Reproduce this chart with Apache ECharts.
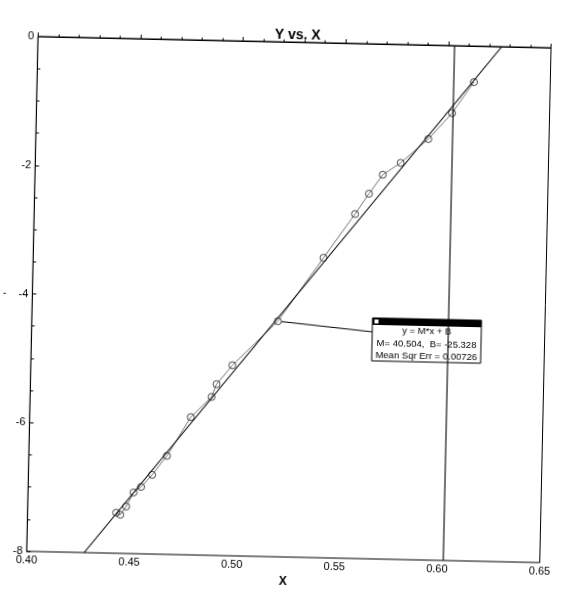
<!DOCTYPE html>
<html><head><meta charset="utf-8">
<script src="https://cdn.jsdelivr.net/npm/echarts@6/dist/echarts.min.js"></script>
<style>
html,body{margin:0;padding:0;background:#fff;overflow:hidden;}
#c{width:576px;height:594px;transform:rotate(1.26deg);transform-origin:50% 50%;}
</style>
</head><body><div id="c"></div>
<script>
// Measured data (X, Y)
const xData = [0.4432,0.4452,0.4480,0.4514,0.4550,0.4603,0.4673,0.4785,0.4884,0.4907,0.4982,0.5199,0.5414,0.5563,0.5629,0.5694,0.5780,0.5912,0.6025,0.6128];
const yData = [-7.37,-7.40,-7.27,-7.05,-6.96,-6.77,-6.47,-5.86,-5.54,-5.34,-5.04,-4.34,-3.34,-2.65,-2.33,-2.03,-1.84,-1.46,-1.05,-0.56];
// Fitted line endpoints
const fitX = [0.428, 0.626];
const fitY = [-8, 0];
// Vertical cursor
const cursorX = 0.603;
const cursorY = [-8, 0];
// Axis ranges / ticks
const xMin = 0.40, xMax = 0.65, xStep = 0.05;
const yMin = -8, yMax = 0, yStep = 2;
// Texts
const titleText = 'Y vs. X';
const xName = 'X';
const yName = '-';
const calloutLines = ['y = M*x + B', 'M= 40.504,  B= -25.328', 'Mean Sqr Err = 0.00726'];
const calloutIndex = 11;

const FONT = '"Liberation Sans", Arial, sans-serif';
const chart = echarts.init(document.getElementById('c'), null, {renderer:'canvas'});

const option = {
  animation: false,
  backgroundColor: '#fff',
  title: {
    text: titleText, left: 287, top: 23, textAlign: 'center',
    textStyle: {fontFamily: FONT, fontSize: 14, fontWeight: 'bold', color: '#000'}
  },
  grid: {left: 29.5, right: 30.5, top: 42, bottom: 37, show: true, borderColor: '#000', borderWidth: 1, containLabel: false},
  xAxis: {
    type: 'value', min: xMin, max: xMax, interval: xStep,
    name: xName, nameLocation: 'middle', nameGap: 15,
    nameTextStyle: {fontFamily: FONT, fontSize: 12, fontWeight: 'bold', color: '#000'},
    axisLine: {show: true, lineStyle: {color: '#000', width: 1}},
    axisTick: {show: true, inside: true, length: 4, lineStyle: {color: '#000'}},
    minorTick: {show: true, splitNumber: 5, length: 2.5, lineStyle: {color: '#000'}},
    splitLine: {show: false},
    axisLabel: {fontFamily: FONT, fontSize: 11, color: '#000', margin: 3,
      formatter: v => v.toFixed(2)}
  },
  yAxis: {
    type: 'value', min: yMin, max: yMax, interval: yStep,
    name: yName, nameLocation: 'middle', nameGap: 26, nameRotate: 0,
    nameTextStyle: {fontFamily: FONT, fontSize: 10, color: '#000'},
    axisLine: {show: true, lineStyle: {color: '#000', width: 1}},
    axisTick: {show: true, inside: true, length: 4, lineStyle: {color: '#000'}},
    minorTick: {show: true, splitNumber: 4, length: 3, lineStyle: {color: '#000'}},
    splitLine: {show: false},
    axisLabel: {fontFamily: FONT, fontSize: 11, color: '#000', margin: 4,
      formatter: v => String(Math.round(v))}
  },
  series: [
    {
      type: 'line', name: 'data',
      data: xData.map((x, i) => [x, yData[i]]),
      symbol: 'circle', symbolSize: 7, showAllSymbol: true,
      itemStyle: {color: 'rgba(0,0,0,0)', borderColor: '#333', borderWidth: 0.9},
      lineStyle: {color: '#666', width: 0.9},
      z: 3
    },
    {
      type: 'line', name: 'fit',
      data: fitX.map((x, i) => [x, fitY[i]]),
      symbol: 'none', lineStyle: {color: '#000', width: 1.1}, z: 4
    },
    {
      type: 'line', name: 'cursor',
      data: cursorY.map(y => [cursorX, y]),
      symbol: 'none', lineStyle: {color: '#000', width: 1.1}, z: 5
    }
  ]
};
chart.setOption(option);

// Callout box and leader
const p = chart.convertToPixel({gridIndex: 0}, [xData[calloutIndex], yData[calloutIndex]]);
const box = {x: 373, y: 316, w: 109, h: 43};
const ax = box.x, ay = box.y + 14;
const ddx = ax - p[0], ddy = ay - p[1], L = Math.hypot(ddx, ddy);
const r = 3.5;
const graphics = [
  {type: 'line', z: 1, shape: {x1: p[0] + ddx / L * r, y1: p[1] + ddy / L * r, x2: ax, y2: ay}, style: {stroke: '#000', lineWidth: 1}},
  {type: 'rect', z: 1, shape: {x: box.x, y: box.y, width: box.w, height: box.h}, style: {fill: '#fff', stroke: '#000', lineWidth: 1}},
  {type: 'rect', z: 1, shape: {x: box.x, y: box.y, width: box.w, height: 7}, style: {fill: '#000'}},
  {type: 'rect', z: 1, shape: {x: box.x + 2, y: box.y + 1.5, width: 4, height: 4}, style: {fill: '#fff'}}
];
const offs = [12.5, 25, 37];
calloutLines.forEach((t, i) => {
  graphics.push({type: 'text', z: 1, x: box.x + box.w / 2, y: box.y + offs[i],
    style: {text: t, fontFamily: FONT, fontSize: 9.5, fill: '#000', align: 'center', verticalAlign: 'middle'}});
});
chart.setOption({graphic: graphics});
</script>
</body></html>
